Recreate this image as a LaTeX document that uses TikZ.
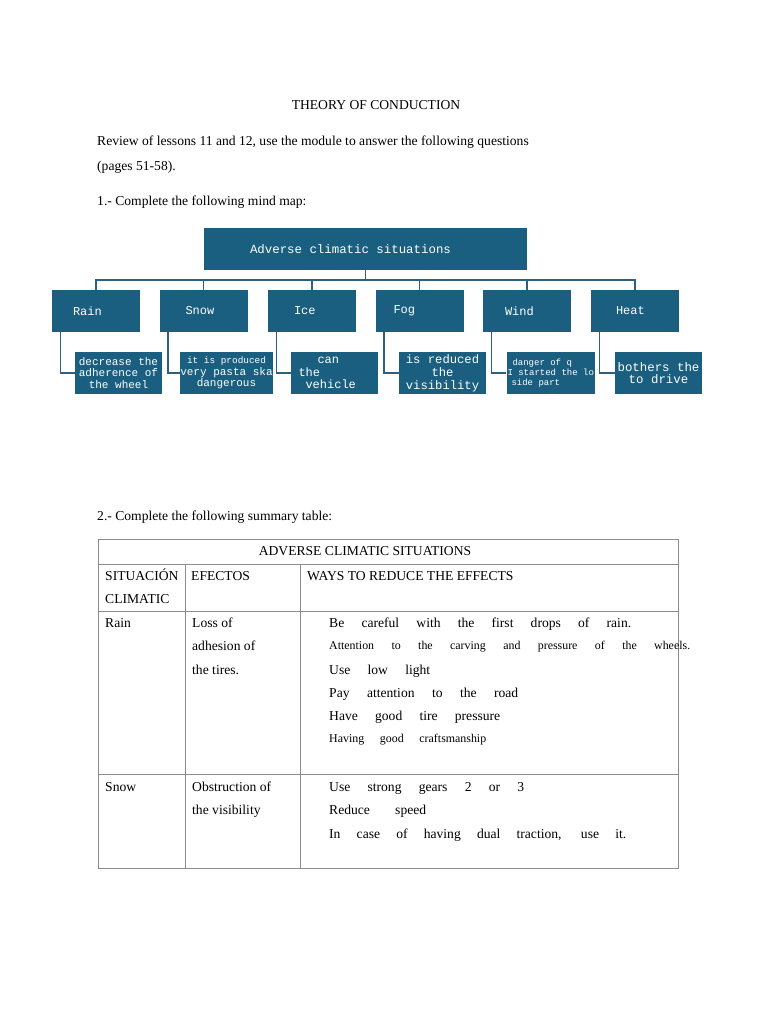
\documentclass[tikz,border=0pt]{standalone}
\usepackage{fontspec}
\setmainfont{Liberation Serif}
\setmonofont{Liberation Mono}[WordSpace={1,0,0}]
\usepackage{tikz}
\usetikzlibrary{positioning, calc}

\definecolor{mapblue}{RGB}{26,94,128}
\definecolor{mapline}{RGB}{44,96,126}
\definecolor{rulegray}{RGB}{140,140,140}
\newcommand{\spreadto}[2]{\makebox[#1][s]{#2}}

\begin{document}
\begin{tikzpicture}[
  x=1pt, y=-1pt,
  every node/.style={font=\fontsize{13.6}{16}\selectfont, inner sep=0pt},
  txt/.style={anchor=base west},
  headbox/.style={fill=mapblue, text=white, font=\ttfamily\fontsize{12.4}{14}\selectfont, minimum height=42pt, text width=231pt, inner xsep=46pt, align=flush left},
  catbox/.style={fill=mapblue, text=white, font=\ttfamily\fontsize{12}{14}\selectfont, minimum height=42pt, text width=52pt, inner xsep=18pt, align=flush left},
  leafbox/.style={fill=mapblue, text=white, minimum width=87pt, minimum height=42pt, align=center},
  link/.style={draw=mapline, line width=1.6pt},
  rule/.style={draw=rulegray, line width=0.8pt}
]
  \useasboundingbox[fill=white] (0,0) rectangle (768,1024);

  % Heading
  \node[anchor=base] (title) at (376,110) {THEORY OF CONDUCTION};
  \node[txt] (intro1) at (97,146) {Review of lessons 11 and 12, use the module to answer the following questions};
  \node[txt] (intro2) at (97,171) {(pages 51-58).};
  \node[txt] (q1) at (97,206) {1.- Complete the following mind map:};

  % Mind map
  \node[headbox] (top) at (365.5,249) {Adverse climatic situations};
  \coordinate (bus) at (0,280);
  \foreach \i/\x/\dx/\name in {1/96/3/Rain, 2/203.5/8/Snow, 3/312/8/Ice, 4/419.5/0/Fog, 5/527/4/Wind, 6/635/7/Heat} {
    \node[catbox] (cat\i) at (\x,311) {\hspace*{\dx pt}\name};
    \draw[link] (top.south) |- (cat\i.north |- bus) -- (cat\i.north);
  }

  % Leaves
  \node[leafbox, font=\ttfamily\fontsize{11}{11.5}\selectfont] (leaf1) at ($(cat1)+(22.5,62)$) {decrease the\\adherence of\\the wheel};
  \node[leafbox, font=\ttfamily\fontsize{11}{11.5}\selectfont] (leaf2) at ($(cat2)+(23,62)$) {{\fontsize{9.4}{11.5}\selectfont it is produced}\\very pasta ska\\dangerous};
  \node[leafbox, font=\ttfamily\fontsize{12}{12.5}\selectfont, text width=72pt, align=flush left] (leaf3) at ($(cat3)+(22.5,62)$) {\hspace*{19pt}can\\the\\\hspace*{7pt}vehicle};
  \node[leafbox, font=\ttfamily\fontsize{12.2}{13}\selectfont] (leaf4) at ($(cat4)+(23,62)$) {is reduced\\the\\visibility};
  \node[leafbox, font=\ttfamily\fontsize{9}{10}\selectfont, text width=88pt, align=flush left] (leaf5) at ($(cat5)+(23.5,62)$) {\hspace*{6pt}danger of q\\\hspace*{1pt}I started the lo\\\hspace*{5pt}side part};
  \node[leafbox, font=\ttfamily\fontsize{12.4}{12}\selectfont] (leaf6) at ($(cat6)+(23.5,62)$) {bothers the\\to drive};
  \foreach \i in {1,...,6} {
    \draw[link] ([xshift=8.5pt]cat\i.south west) |- (leaf\i.west);
  }

  % Summary table
  \node[txt] (q2) at (97,520) {2.- Complete the following summary table:};
  \draw[rule] (98,539) rectangle (678,868);
  \draw[rule] (98,564) -- (678,564);
  \draw[rule] (98,611) -- (678,611);
  \draw[rule] (98,774) -- (678,774);
  \draw[rule] (185,564) -- (185,868);
  \draw[rule] (300,564) -- (300,868);

  \node[anchor=base] (thead) at (365,555) {ADVERSE CLIMATIC SITUATIONS};
  \foreach \x/\y/\nm/\cell in {105/580/sit1/SITUACIÓN, 105/603/sit2/CLIMATIC, 191/580/eff/EFECTOS, 307/580/ways/WAYS TO REDUCE THE EFFECTS,
      105/627/rain/Rain, 192/627/rainA/Loss of, 192/650/rainB/adhesion of, 192/674/rainC/the tires.,
      105/791/snow/Snow, 192/791/snowA/Obstruction of, 192/814/snowB/the visibility} {
    \node[txt] (\nm) at (\x,\y) {\cell};
  }

  % Ways to reduce the effects
  \foreach \i/\y/\w/\fs/\cell in {1/627/302/13.6/Be careful with the first drops of rain.,
      2/649/361/11.9/Attention to the carving and pressure of the wheels.,
      3/674/101/13.6/Use low light,
      4/697/189/13.6/Pay attention to the road,
      5/720/171/13.6/Have good tire pressure,
      6/742/157/11.9/Having good craftsmanship,
      7/791/195/13.6/Use strong gears 2 or 3,
      8/814/97/13.6/Reduce speed,
      9/838/297/13.6/{In case of having dual traction, use it.}} {
    \node[txt, font=\fontsize{\fs}{16}\selectfont] (way\i) at (329,\y) {\spreadto{\w pt}{\cell}};
  }

\end{tikzpicture}
\end{document}
